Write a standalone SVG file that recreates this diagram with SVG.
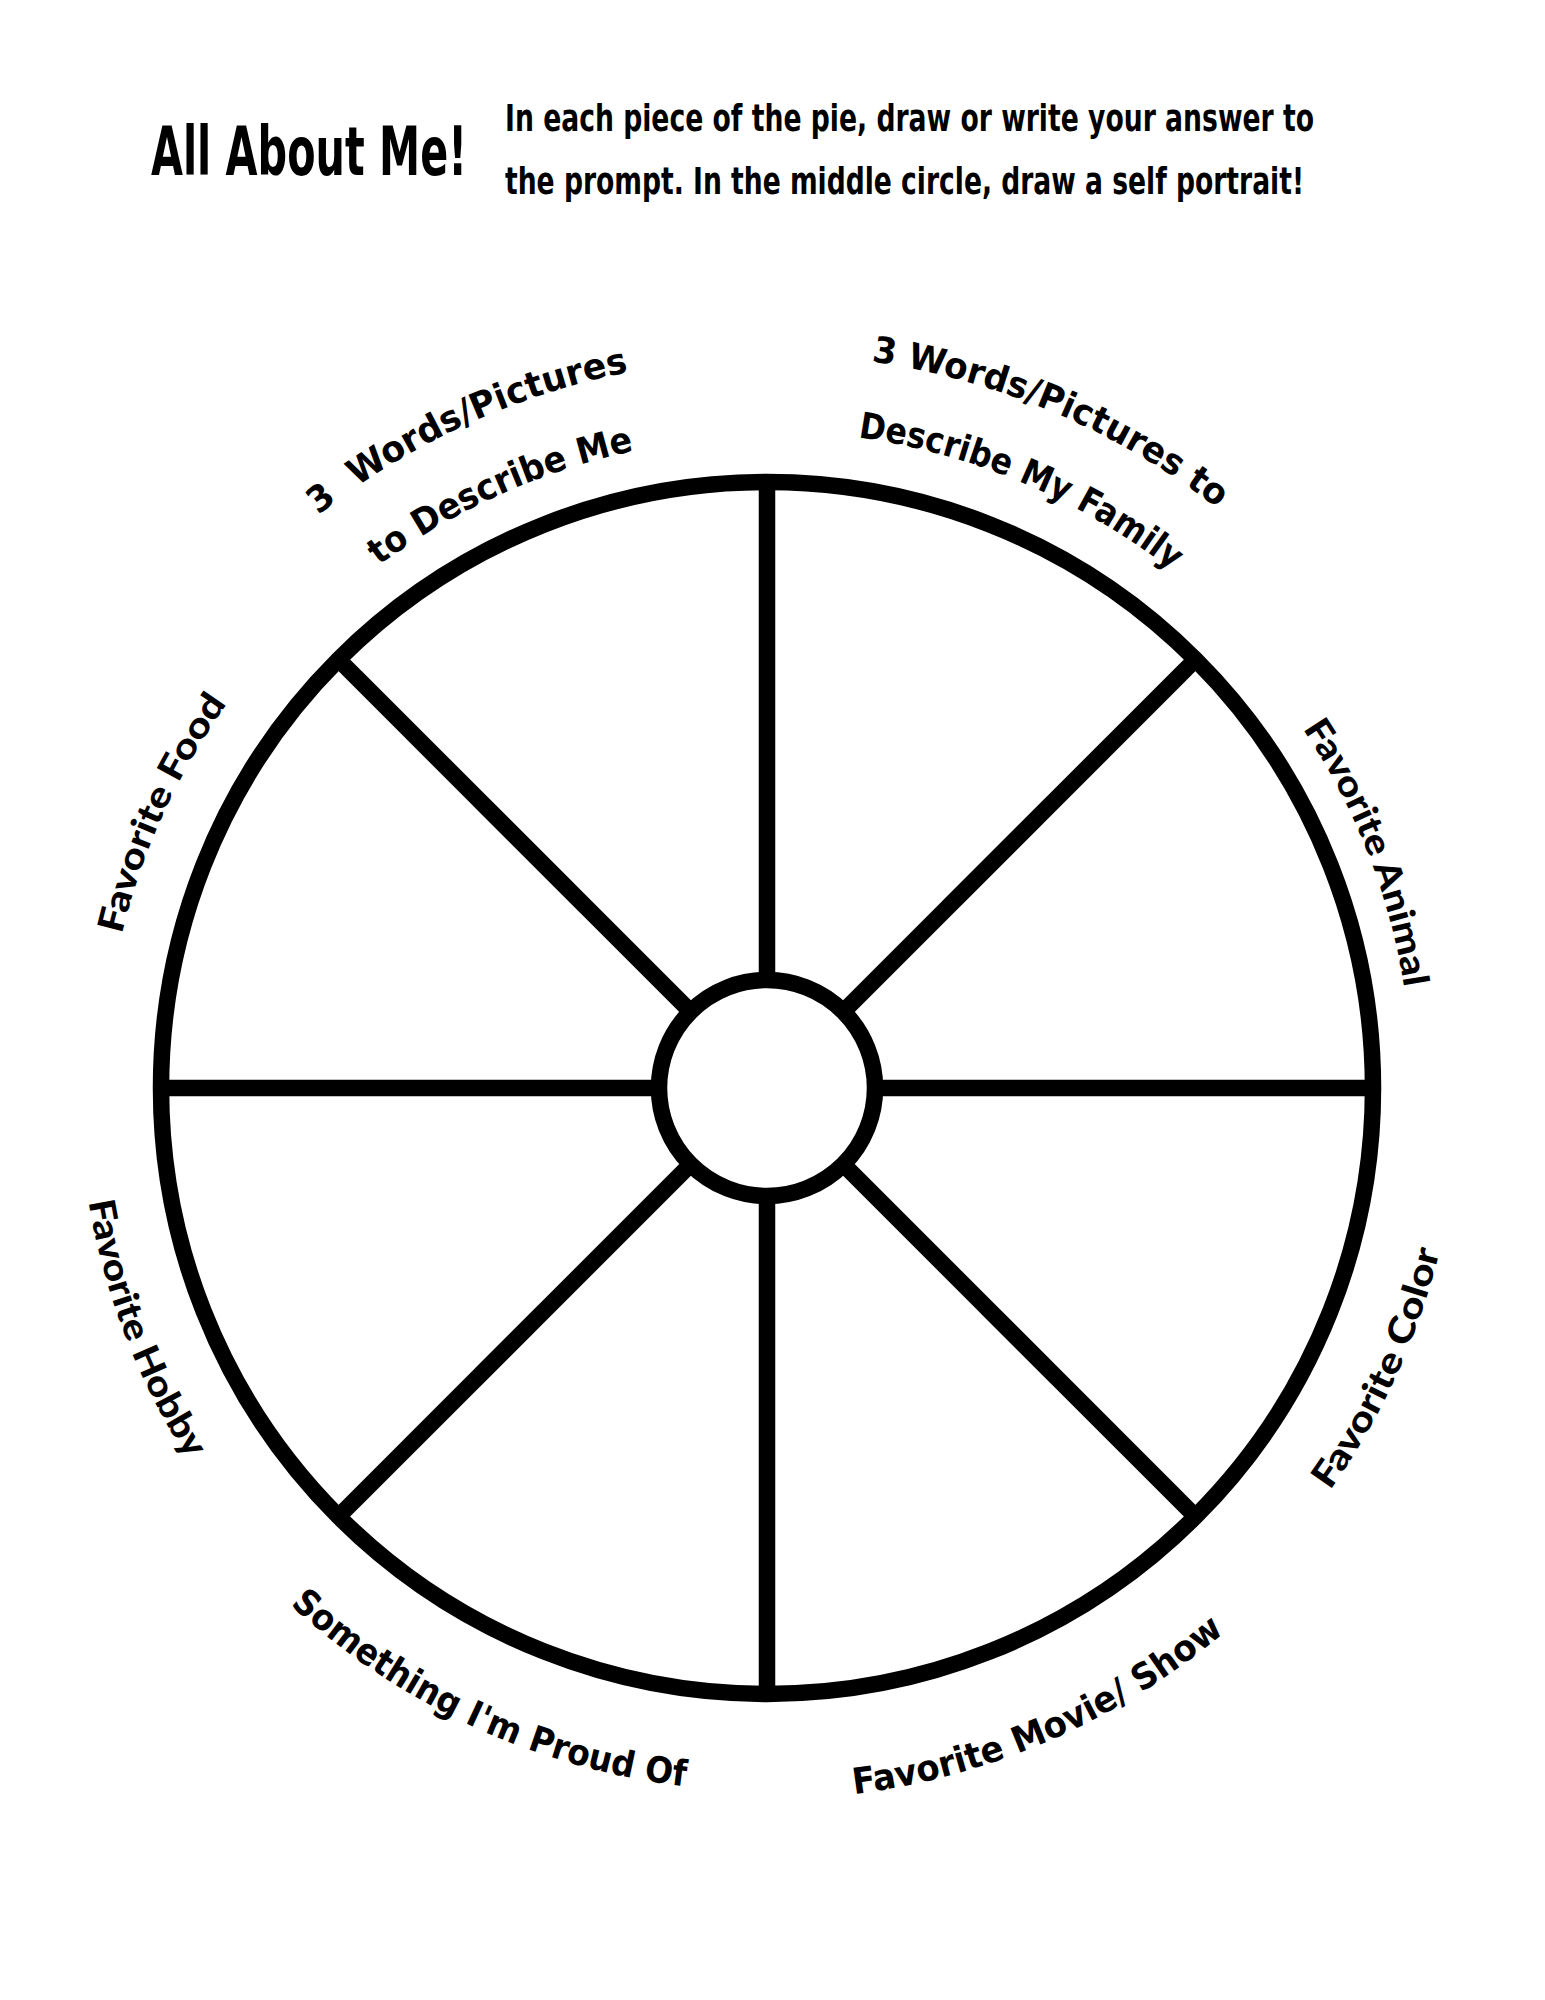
<svg xmlns="http://www.w3.org/2000/svg" width="1545" height="2000" viewBox="0 0 1545 2000">
<style>
.ring{fill:#fff;stroke:#000;stroke-width:16.5}
.spoke{stroke:#000;stroke-width:16.5;fill:none}
.comic{font-family:"DejaVu Sans Condensed","DejaVu Sans",sans-serif;font-weight:bold;fill:#000}
.side{font-family:Lato,"Noto Sans",sans-serif;font-weight:900;fill:#000;font-size:36px}
.arc{font-size:36px;white-space:pre}
</style>
<defs>
<path id="pFood" d="M127.6,1268 A664,664 0 0,1 483.3,489.7"/>
<path id="pAnimal" d="M1075.8,521.7 A645,645 0 0,1 1378.3,1293.8"/>
<path id="pColor" d="M1063.8,1713.1 A692,692 0 0,0 1434.2,904.2"/>
<path id="pHobby" d="M116.1,865.2 A688,688 0 0,0 434.3,1690.3"/>
<path id="pProud" d="M131.4,1388.5 A703,703 0 0,0 952.5,1766.1"/>
<path id="pMovie" d="M565.2,1770.8 A712,712 0 0,0 1403.4,1404.3"/>
<path id="pMe1" d="M107.8,781.5 A731,731 0 0,1 967.9,385.1"/>
<path id="pMe2" d="M180.3,806.4 A651,651 0 0,1 946.1,462.3"/>
<path id="pFam1" d="M552.4,386.1 A734,734 0 0,1 1421,754.8"/>
<path id="pFam2" d="M574.9,459.7 A657,657 0 0,1 1352.4,789.7"/>
</defs>
<rect width="1545" height="2000" fill="#fff"/>
<g id="header">
<text class="comic" x="151" y="175" font-size="68" textLength="316" lengthAdjust="spacingAndGlyphs">All About Me!</text>
<text class="comic" x="505" y="131" font-size="38" textLength="809" lengthAdjust="spacingAndGlyphs">In each piece of the pie, draw or write your answer to</text>
<text class="comic" x="505" y="194" font-size="38" textLength="799" lengthAdjust="spacingAndGlyphs">the prompt. In the middle circle, draw a self portrait!</text>
</g>
<g id="connectors">
<circle class="ring" cx="767" cy="1088" r="606"/>
<line class="spoke" x1="767" y1="482" x2="767" y2="1694"/>
<line class="spoke" x1="161" y1="1088" x2="1373" y2="1088"/>
<line class="spoke" x1="338.5" y1="659.5" x2="1195.5" y2="1516.5"/>
<line class="spoke" x1="1195.5" y1="659.5" x2="338.5" y2="1516.5"/>
</g>
<g id="center"><circle class="ring" cx="767" cy="1088" r="108"/></g>
<g id="label-me"><text class="comic arc"><textPath href="#pMe1" startOffset="50%" text-anchor="middle" textLength="345" lengthAdjust="spacingAndGlyphs">3  Words/Pictures</textPath></text>
<text class="comic arc"><textPath href="#pMe2" startOffset="50%" text-anchor="middle" textLength="282" lengthAdjust="spacingAndGlyphs">to Describe Me</textPath></text></g>
<g id="label-family"><text class="comic arc"><textPath href="#pFam1" startOffset="50%" text-anchor="middle" textLength="380" lengthAdjust="spacingAndGlyphs">3 Words/Pictures to</textPath></text>
<text class="comic arc"><textPath href="#pFam2" startOffset="50%" text-anchor="middle" textLength="345" lengthAdjust="spacingAndGlyphs">Describe My Family</textPath></text></g>
<g id="label-food"><text class="side"><textPath href="#pFood" startOffset="50%" text-anchor="middle" textLength="255" lengthAdjust="spacingAndGlyphs">Favorite Food</textPath></text></g>
<g id="label-animal"><text class="side"><textPath href="#pAnimal" startOffset="50%" text-anchor="middle" textLength="280" lengthAdjust="spacingAndGlyphs">Favorite Animal</textPath></text></g>
<g id="label-color"><text class="side"><textPath href="#pColor" startOffset="50%" text-anchor="middle" textLength="265" lengthAdjust="spacingAndGlyphs">Favorite Color</textPath></text></g>
<g id="label-hobby"><text class="side"><textPath href="#pHobby" startOffset="50%" text-anchor="middle" textLength="278" lengthAdjust="spacingAndGlyphs">Favorite Hobby</textPath></text></g>
<g id="label-proud"><text class="comic arc"><textPath href="#pProud" startOffset="50%" text-anchor="middle" textLength="442" lengthAdjust="spacingAndGlyphs">Something I'm Proud Of</textPath></text></g>
<g id="label-movie"><text class="comic arc"><textPath href="#pMovie" startOffset="50%" text-anchor="middle" textLength="410" lengthAdjust="spacingAndGlyphs">Favorite Movie/ Show</textPath></text></g>
</svg>
